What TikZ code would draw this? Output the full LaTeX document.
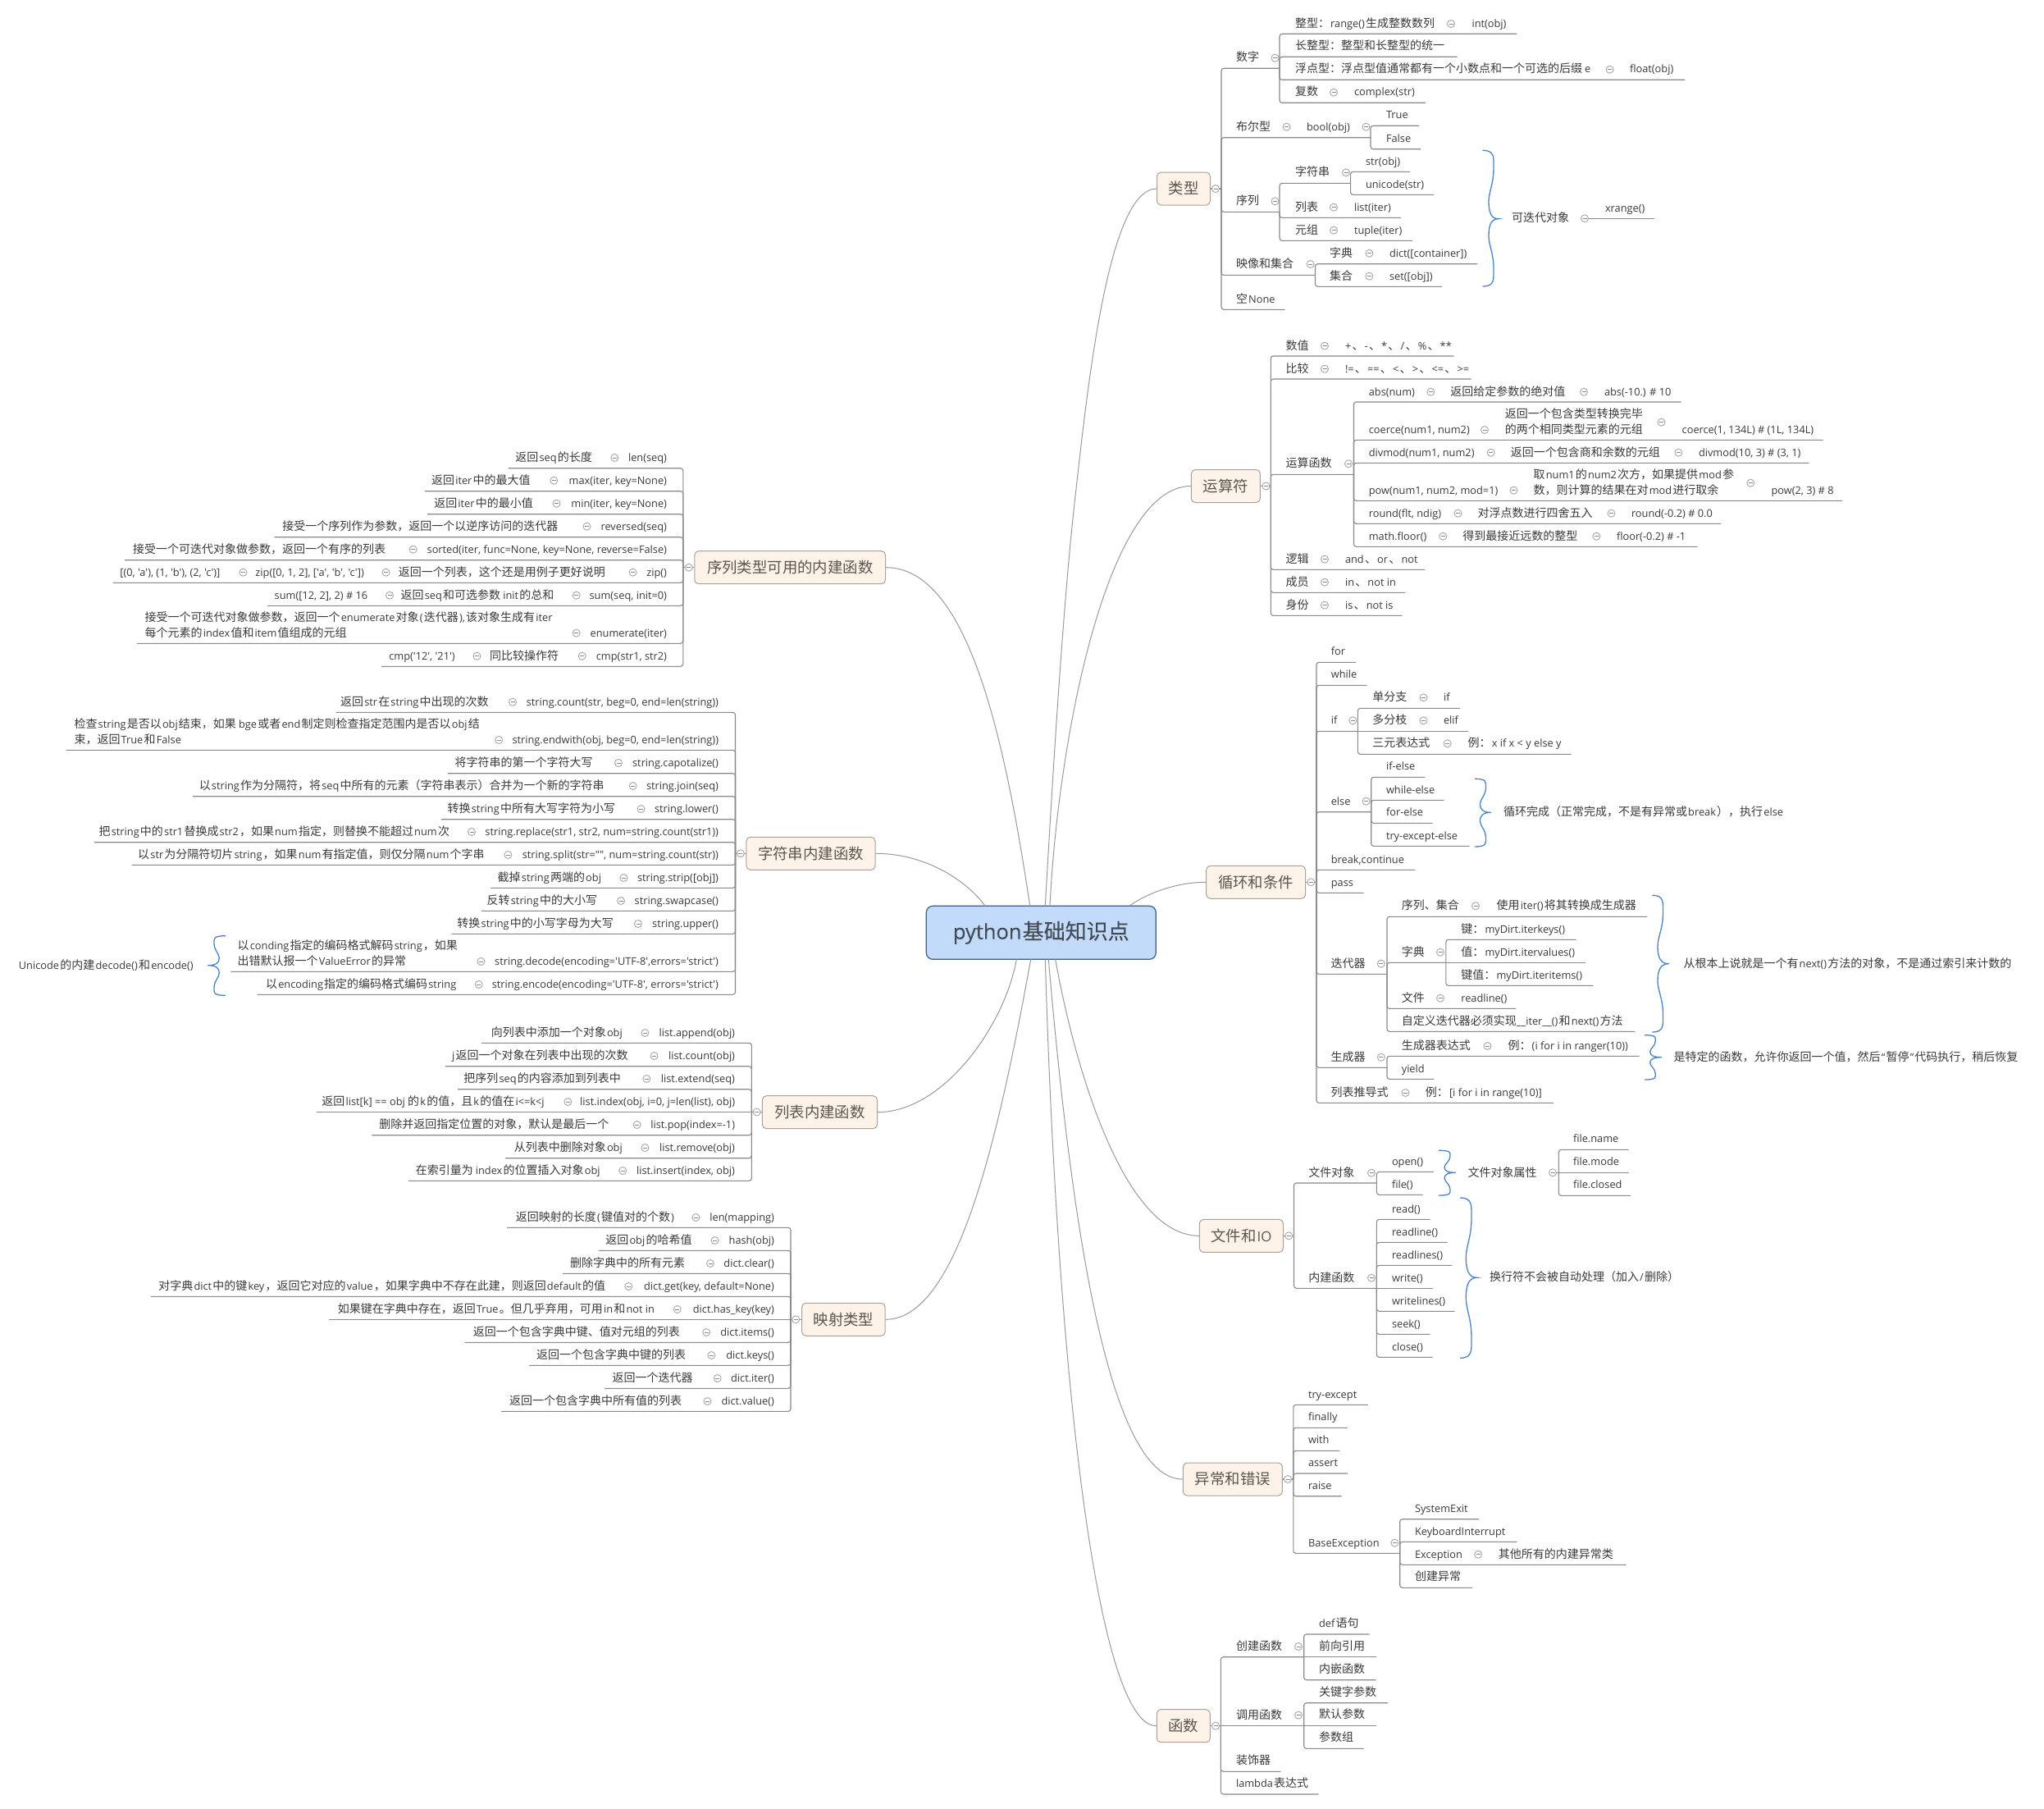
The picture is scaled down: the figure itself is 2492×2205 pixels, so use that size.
\documentclass[tikz,border=0pt]{standalone}
\usepackage{fontspec}
\newfontfamily\latf[Scale=0.913]{Open Sans}
\newfontfamily\cjkf{Noto Sans CJK SC}
\newfontfamily\latb[Scale=0.98,FakeBold=0.3]{Open Sans}
\newfontfamily\cjkb[FakeBold=0.3]{Noto Sans CJK SC}
\let\zhf\cjkf \let\enf\latf
\newcount\cc
\cc="4E00 \loop\XeTeXcharclass\cc=200 \advance\cc 1 \ifnum\cc<"A000 \repeat
\cc="3000 \loop\XeTeXcharclass\cc=200 \advance\cc 1 \ifnum\cc<"3040 \repeat
\cc="FF00 \loop\XeTeXcharclass\cc=200 \advance\cc 1 \ifnum\cc<"FFF0 \repeat
\XeTeXinterchartoks 0 200={\kern1.2pt\zhf}
\XeTeXinterchartoks 4095 200={\zhf}
\XeTeXinterchartoks 200 0={\kern1.2pt\enf}
\XeTeXinterchartoks 4095 0={\enf}
\XeTeXinterchartokenstate=1
\definecolor{ln}{HTML}{8A8A8A}
\definecolor{cv}{HTML}{9A9A9A}
\definecolor{tx}{HTML}{3A3A3A}
\definecolor{bxf}{HTML}{FDF3E9}
\definecolor{bxd}{HTML}{A8A298}
\definecolor{bxt}{HTML}{5C5650}
\definecolor{rtf}{HTML}{C3DBFA}
\definecolor{rtd}{HTML}{3D5F8A}
\definecolor{rtt}{HTML}{434B55}
\definecolor{brc}{HTML}{4A84C6}
\definecolor{cir}{HTML}{A6A6A6}
\tikzset{
 conn/.style={draw=ln,line width=1.1pt,rounded corners=3pt},
 curve/.style={draw=cv,line width=1pt},
 bracepath/.style={draw=brc,line width=1.3pt},
 lbl/.style={inner sep=0pt,outer sep=0pt,text=tx,font=\fontsize{14}{18.6}\selectfont\enf},
 multi/.style={lbl,align=left},
 col/.style={circle,draw=cir,line width=0.9pt,fill=white,minimum size=9pt,inner sep=0pt,
  path picture={\draw[draw=ln,line width=0.8pt] ([xshift=-2.5pt]path picture bounding box.center) -- ([xshift=2.5pt]path picture bounding box.center);}},
 box/.style={draw=bxd,line width=1pt,fill=bxf,rounded corners=5pt,inner sep=0pt,text=bxt,font=\fontsize{18.4}{22}\selectfont\enf},
 rootn/.style={draw=rtd,line width=1.2pt,fill=rtf,rounded corners=8pt,inner sep=0pt,text=rtt,font=\let\zhf\cjkb\let\enf\latb\fontsize{26}{30}\selectfont\enf},
}
\newcount\nc
\newcommand\Tl[3]{\global\advance\nc1 \node[lbl,anchor=base west] (n\the\nc) at (#1,#2+4.3) {#3};}
\newcommand\Tr[3]{\global\advance\nc1 \node[lbl,anchor=base east] (n\the\nc) at (#1,#2+4.3) {#3};}
\newcommand\Tm[3]{\global\advance\nc1 \node[multi,anchor=base west] (n\the\nc) at (#1,#2+4.3) {#3};}
\newcommand\Cc[2]{\global\advance\nc1 \node[col] (n\the\nc) at (#1,#2) {};}
\newcommand\Rw[4]{\coordinate (#1) at (#4,#3); \draw[conn] (#2) |- (#1);}
\newcommand\Rs[4]{\coordinate (#1) at (#4,#3); \draw[conn] (#2) -- (#1);}
\newcommand\Bx[6]{\node[box,minimum width={#3-#2},minimum height={#5-#4}] (#1) at ({(#2+#3)/2},{(#4+#5)/2}) {#6};}
% L: free end, S: swell, M: waist, P: tip; T,C,B: top, tip level, bottom
\newcommand\Brc[7]{\draw[bracepath] (#1,#5) .. controls ({#2+0.1*(#2-#1)},#5) and (#2,{#5+0.1*(#6-#5)}) .. (#2,{#5+0.25*(#6-#5)})
 .. controls (#2,{#5+0.5*(#6-#5)}) and (#3,{#5+0.6*(#6-#5)}) .. (#3,{#5+0.75*(#6-#5)})
 .. controls (#3,{#5+0.92*(#6-#5)}) and ({#3+0.3*(#4-#3)},#6) .. (#4,#6)
 .. controls ({#3+0.3*(#4-#3)},#6) and (#3,{#7-0.92*(#7-#6)}) .. (#3,{#7-0.75*(#7-#6)})
 .. controls (#3,{#7-0.6*(#7-#6)}) and (#2,{#7-0.5*(#7-#6)}) .. (#2,{#7-0.25*(#7-#6)})
 .. controls (#2,{#7-0.1*(#7-#6)}) and ({#2+0.1*(#2-#1)},#7) .. (#1,#7);}
\begin{document}
\begin{tikzpicture}[x=1pt,y=-1pt]
\useasboundingbox[fill=white] (0,0) rectangle (2492,2205);
% ---- main boxes
\node[rootn,minimum width=280pt,minimum height=65pt] (root) at (1269.3,1136.8) {python基础知识点};
\Bx{bA}{1410.5}{1475.5}{210}{250}{类型}
\Bx{bB}{1452.3}{1536.4}{572.5}{612.5}{运算符}
\Bx{bC}{1470.7}{1591.6}{1055.3}{1095.3}{循环和条件}
\Bx{bD}{1462.3}{1564.5}{1486.3}{1526.3}{文件和IO}
\Bx{bE}{1442.4}{1563.4}{1783}{1823}{异常和错误}
\Bx{bF}{1410.3}{1475.4}{2083.7}{2123.7}{函数}
\Bx{bG}{846.8}{1079.6}{671.7}{711.7}{序列类型可用的内建函数}
\Bx{bH}{909.9}{1067}{1020.3}{1060.3}{字符串内建函数}
\Bx{bI}{929.4}{1069.5}{1335.7}{1375.7}{列表内建函数}
\Bx{bJ}{977.6}{1079.2}{1588.3}{1628.3}{映射类型}
% ---- root curves
\coordinate (rA) at (1274.3,1104.3); \coordinate (rB) at (1280,1104.3); \coordinate (rC) at (1376.7,1104.3);
\coordinate (rD) at (1286.7,1169.3); \coordinate (rE) at (1278.3,1169.3); \coordinate (rF) at (1274.3,1169.3);
\coordinate (rG) at (1255.7,1104.3); \coordinate (rH) at (1201,1104.3); \coordinate (rI) at (1239.3,1169.3); \coordinate (rJ) at (1256.7,1169.3);
\draw[curve] (rA) .. controls (1282,970) and (1295,750) .. (1309.3,620) .. controls (1325,480) and (1350,230) .. (bA.west);
\draw[curve] (rB) .. controls (1290,900) and (1350,592.5) .. (bB.west);
\draw[curve] (rC) .. controls (1400,1088) and (1435,1075.3) .. (bC.west);
\draw[curve] (rD) .. controls (1310,1300) and (1370,1506.3) .. (bD.west);
\draw[curve] (rE) .. controls (1305,1480) and (1350,1803) .. (bE.west);
\draw[curve] (rF) .. controls (1290,1700) and (1340,2103.7) .. (bF.west);
\draw[curve] (rG) .. controls (1225,900) and (1180,691.7) .. (bG.east);
\draw[curve] (rH) .. controls (1180,1075) and (1130,1040.3) .. (bH.east);
\draw[curve] (rI) .. controls (1225,1250) and (1150,1355.7) .. (bI.east);
\draw[curve] (rJ) .. controls (1215,1400) and (1165,1608.3) .. (bJ.east);
% ---- A 类型
\coordinate (A) at (1489,230); \draw[conn] (bA.east) -- (A);
\Rw{a1}{A}{83.3}{1560}\Rw{a11}{a1}{41.3}{1849}\Rw{a12}{a1}{69.3}{1776.5}\Rw{a13}{a1}{97.3}{2054}\Rw{a14}{a1}{125.3}{1738}
\Rw{a2}{A}{167.7}{1671}\Rw{a21}{a2}{153.3}{1730}\Rw{a22}{a2}{181.7}{1732}
\Rw{a3}{A}{258.3}{1560}\Rw{a31}{a3}{223.3}{1646.6}\Rw{a311}{a31}{209.3}{1719}\Rw{a312}{a31}{237.3}{1748}\Rw{a32}{a3}{265.3}{1708}\Rw{a33}{a3}{293.3}{1722}
\Rw{a4}{A}{335.3}{1603.5}\Rw{a41}{a4}{321.7}{1801}\Rw{a42}{a4}{349.3}{1758}
\Rw{a5}{A}{377.3}{1566.6}
\Cc{1482}{230}
\Tl{1507}{70.7}{数字}\Cc{1554.5}{70.7}
\Tl{1579}{29}{整型：range()生成整数数列}\Cc{1769}{29}\Tl{1794.5}{29}{int(obj)}
\Tl{1579}{56.7}{长整型：整型和长整型的统一}
\Tl{1579}{84.7}{浮点型：浮点型值通常都有一个小数点和一个可选的后缀 e}\Cc{1962.6}{84.7}\Tl{1987}{84.7}{float(obj)}
\Tl{1579}{112.7}{复数}\Cc{1626}{112.7}\Tl{1651}{112.7}{complex(str)}
\Tl{1507}{154.7}{布尔型}\Cc{1568.6}{154.7}\Tl{1593}{154.7}{bool(obj)}\Cc{1665.5}{154.7}
\Tl{1690}{140.7}{True}\Tl{1690}{168.7}{False}
\Tl{1507}{245.3}{序列}\Cc{1554.5}{245.3}
\Tl{1579}{210.3}{字符串}\Cc{1641}{210.3}\Tl{1665}{196.7}{str(obj)}\Tl{1665}{224.7}{unicode(str)}
\Tl{1579}{252.7}{列表}\Cc{1626}{252.7}\Tl{1651}{252.7}{list(iter)}
\Tl{1579}{280.7}{元组}\Cc{1626}{280.7}\Tl{1651}{280.7}{tuple(iter)}
\Tl{1507}{322}{映像和集合}\Cc{1597.6}{322}
\Tl{1621}{308.7}{字典}\Cc{1669.4}{308.7}\Tl{1694}{308.7}{dict([container])}
\Tl{1621}{336.7}{集合}\Cc{1669.4}{336.7}\Tl{1694}{336.7}{set([obj])}
\Tl{1507}{364.7}{空None}
\Brc{1807.5}{1821}{1815}{1827}{183.3}{266.7}{349}
\Tl{1843}{266.3}{可迭代对象}
\coordinate (a6) at (1932,266.3); \coordinate (a61) at (2017,266.3); \draw[conn] (a6) -- (a61);
\Cc{1932}{266.3}\Tl{1957}{254}{xrange()}
% ---- B 运算符
\coordinate (B) at (1549.3,592.5); \draw[conn] (bB.east) -- (B);
\Rw{b1}{B}{434}{1772.7}\Rw{b2}{B}{462}{1793.6}\Rw{b3}{B}{578.3}{1650.5}
\Rw{b31}{b3}{490}{2049.6}\Rw{b32}{b3}{536.3}{2222.7}\Rw{b33}{b3}{564.3}{2205.5}\Rw{b34}{b3}{610.3}{2246}\Rw{b35}{b3}{638.3}{2098.4}\Rw{b36}{b3}{666.3}{2069.5}
\Rw{b4}{B}{694.3}{1737.3}\Rw{b5}{B}{722.3}{1713}\Rw{b6}{B}{750.3}{1709.5}
\Cc{1543.4}{592.5}
\Tl{1567.5}{421.7}{数值}\Cc{1615}{421.7}\Tl{1640}{421.7}{+、-、*、/、\%、**}
\Tl{1567.5}{449.7}{比较}\Cc{1615}{449.7}\Tl{1640}{449.7}{!=、==、<、>、<=、>=}
\Tl{1567.5}{565.3}{运算函数}\Cc{1644}{565.3}
\Tl{1668.8}{477.7}{abs(num)}\Cc{1744.3}{477.7}\Tl{1768.4}{477.7}{返回给定参数的绝对值}\Cc{1931}{477.7}\Tl{1956}{477.7}{abs(-10.) \# 10}
\Tl{1668.8}{524}{coerce(num1, num2)}\Cc{1810}{524}\Tm{1834.8}{524}{返回一个包含类型转换完毕\\的两个相同类型元素的元组}\Cc{2025.5}{514.7}\Tl{2050.7}{524}{coerce(1, 134L) \# (1L, 134L)}
\Tl{1668.8}{551.7}{divmod(num1, num2)}\Cc{1817.7}{551.7}\Tl{1841.8}{551.7}{返回一个包含商和余数的元组}\Cc{2046.4}{551.7}\Tl{2071}{551.7}{divmod(10, 3) \# (3, 1)}
\Tl{1668.8}{597.7}{pow(num1, num2, mod=1)}\Cc{1845.5}{597.7}\Tm{1869.6}{597.7}{取num1的num2次方，如果提供mod参\\数，则计算的结果在对mod进行取余}\Cc{2134.3}{588.7}\Tl{2159.5}{597.7}{pow(2, 3) \# 8}
\Tl{1668.8}{625.7}{round(flt, ndig)}\Cc{1777.5}{625.7}\Tl{1801.6}{625.7}{对浮点数进行四舍五入}\Cc{1964.5}{625.7}\Tl{1989}{625.7}{round(-0.2) \# 0.0}
\Tl{1668.8}{653.7}{math.floor()}\Cc{1759.3}{653.7}\Tl{1783.4}{653.7}{得到最接近远数的整型}\Cc{1946.3}{653.7}\Tl{1971}{653.7}{floor(-0.2) \# -1}
\Tl{1567.5}{681.7}{逻辑}\Cc{1615}{681.7}\Tl{1640}{681.7}{and、or、not}
\Tl{1567.5}{709.7}{成员}\Cc{1615}{709.7}\Tl{1640}{709.7}{in、not in}
\Tl{1567.5}{737.7}{身份}\Cc{1615}{737.7}\Tl{1640}{737.7}{is、not is}
% ---- C 循环和条件
\coordinate (C) at (1605,1075.3); \draw[conn] (bC.east) -- (C);
\Rw{c1}{C}{807.3}{1652.9}\Rw{c2}{C}{835.3}{1666.6}\Rw{c3}{C}{891.3}{1655.4}
\Rw{c31}{c3}{863.3}{1780}\Rs{c32}{c3}{891.3}{1789.6}\Rw{c33}{c3}{919.3}{1915.6}
\Rw{c4}{C}{989.7}{1671.7}\Rw{c41}{c4}{947.3}{1737}\Rw{c42}{c4}{975.3}{1760.5}\Rw{c43}{c4}{1003.3}{1746.7}\Rw{c44}{c4}{1031.3}{1791.6}
\Rw{c5}{C}{1060.3}{1725.3}\Rw{c6}{C}{1088.3}{1662.6}
\Rw{c7}{C}{1187.3}{1691}\Rw{c71}{c7}{1117.3}{2008.4}\Rw{c72}{c7}{1173.3}{1762.8}\Rw{c721}{c72}{1145.3}{1921.5}\Rs{c722}{c72}{1173.3}{1933.3}\Rw{c723}{c72}{1201.3}{1942.5}\Rw{c73}{c7}{1229.3}{1848.4}\Rw{c74}{c7}{1257.3}{1993}
\Rw{c8}{C}{1301.3}{1691}\Rw{c81}{c8}{1287.3}{1998.5}\Rw{c82}{c8}{1315.3}{1748.3}
\Rw{c9}{C}{1344.3}{1893.8}
\Cc{1598.3}{1075.3}
\Tl{1622.8}{794.3}{for}\Tl{1622.8}{822.3}{while}
\Tl{1622.8}{878.3}{if}\Cc{1649.3}{878.3}
\Tl{1673.3}{850.3}{单分支}\Cc{1735.5}{850.3}\Tl{1760}{850.3}{if}
\Tl{1673.3}{878.3}{多分枝}\Cc{1735.5}{878.3}\Tl{1760}{878.3}{elif}
\Tl{1673.3}{906.3}{三元表达式}\Cc{1764.6}{906.3}\Tl{1789.6}{906.3}{例：x if x < y else y}
\Tl{1622.8}{976.7}{else}\Cc{1665.6}{976.7}
\Tl{1690}{934.3}{if-else}\Tl{1690}{962.7}{while-else}\Tl{1690}{990.3}{for-else}\Tl{1690}{1018.7}{try-except-else}
\Brc{1797.8}{1811.5}{1804.4}{1818}{949.3}{990.3}{1032}
\Tl{1833}{990.3}{循环完成（正常完成，不是有异常或break），执行else}
\Tl{1622.8}{1047.7}{break,continue}\Tl{1622.8}{1076}{pass}
\Tl{1622.6}{1174.7}{迭代器}\Cc{1683.8}{1174.7}
\Tl{1708.8}{1104.3}{序列、集合}\Cc{1799}{1104.3}\Tl{1824.7}{1104.3}{使用iter()将其转换成生成器}
\Tl{1708.8}{1160.7}{字典}\Cc{1756}{1160.7}
\Tl{1781.3}{1132.7}{键：myDirt.iterkeys()}\Tl{1781.3}{1160.7}{值：myDirt.itervalues()}\Tl{1781.3}{1188.7}{键值：myDirt.iteritems()}
\Tl{1708.8}{1216.7}{文件}\Cc{1756}{1216.7}\Tl{1781.3}{1216.7}{readline()}
\Tl{1708.8}{1244.7}{自定义迭代器必须实现\_\_iter\_\_()和next()方法}
\Brc{2014.3}{2027.5}{2021}{2034.7}{1091.3}{1174.7}{1258}
\Tl{2052.5}{1174.7}{从根本上说就是一个有next()方法的对象，不是通过索引来计数的}
\Tl{1622.6}{1288.7}{生成器}\Cc{1683.8}{1288.7}
\Tl{1708.8}{1275}{生成器表达式}\Cc{1813.5}{1275}\Tl{1838.5}{1275}{例：(i for i in ranger(10))}
\Tl{1708.8}{1302.7}{yield}
\Brc{2005}{2018.3}{2011.7}{2026}{1261.7}{1288.7}{1316}
\Tl{2040.7}{1288.7}{是特定的函数，允许你返回一个值，然后“暂停”代码执行，稍后恢复}
\Tl{1622.6}{1332}{列表推导式}\Cc{1713.5}{1332}\Tl{1737.8}{1332}{例：[i for i in range(10)]}
% ---- D 文件和IO
\coordinate (D) at (1577.5,1506.3); \draw[conn] (bD.east) -- (D);
\Rw{d1}{D}{1442}{1678.4}\Rw{d11}{d1}{1428.3}{1748}\Rw{d12}{d1}{1456.3}{1734.6}
\Rw{d2}{D}{1570.3}{1678.4}\Rw{d21}{d2}{1486.3}{1743.6}\Rw{d22}{d2}{1514.3}{1764.6}\Rw{d23}{d2}{1542.3}{1770.4}\Rs{d24}{d2}{1570.3}{1746.7}\Rw{d25}{d2}{1598.3}{1773.5}\Rw{d26}{d2}{1626.3}{1743.6}\Rw{d27}{d2}{1654.3}{1746.7}
\coordinate (d3) at (1900.3,1429.3); \coordinate (d3s) at (1893,1429.3); \draw[conn] (d3s) -- (d3);
\Rw{d31}{d3}{1401.3}{1985.5}\Rs{d32}{d3}{1429.3}{1986.4}\Rw{d33}{d3}{1457.3}{1988}
\Cc{1571.3}{1506.3}
\Tl{1595.4}{1429.7}{文件对象}\Cc{1672}{1429.7}
\Tl{1697}{1416}{open()}\Tl{1697}{1444}{file()}
\Brc{1753.8}{1768}{1761}{1774.8}{1402.3}{1429.3}{1457}
\Tl{1789.5}{1429.7}{文件对象属性}\Cc{1893}{1429.3}
\Tl{1918}{1388.3}{file.name}\Tl{1918}{1416.3}{file.mode}\Tl{1918}{1444.3}{file.closed}
\Tl{1595.4}{1557.7}{内建函数}\Cc{1672}{1557.7}
\Tl{1697}{1473.7}{read()}\Tl{1697}{1501.7}{readline()}\Tl{1697}{1529.7}{readlines()}\Tl{1697}{1557.7}{write()}\Tl{1697}{1585.7}{writelines()}\Tl{1697}{1613.7}{seek()}\Tl{1697}{1641.7}{close()}
\Brc{1780}{1794}{1787.3}{1800.7}{1460}{1557.3}{1655.3}
\Tl{1816}{1557.3}{换行符不会被自动处理（加入/删除）}
% ---- E 异常和错误
\coordinate (E) at (1576.8,1803); \draw[conn] (bE.east) -- (E);
\Rw{e1}{E}{1712.3}{1667.9}\Rw{e2}{E}{1740.3}{1642.9}\Rw{e3}{E}{1768.3}{1633}\Rw{e4}{E}{1796}{1642.9}\Rw{e5}{E}{1823.7}{1635.7}
\Rw{e6}{E}{1893.3}{1706.7}\Rw{e61}{e6}{1851.7}{1803}\Rw{e62}{e6}{1879.3}{1849.6}\Rw{e63}{e6}{1907.3}{1982.6}\Rw{e64}{e6}{1935.3}{1795}
\Cc{1570}{1803}
\Tl{1595}{1699.7}{try-except}\Tl{1595}{1727.3}{finally}\Tl{1595}{1755.3}{with}\Tl{1595}{1783.3}{assert}\Tl{1595}{1811}{raise}
\Tl{1595}{1880.7}{BaseException}\Cc{1700.4}{1880.7}
\Tl{1725}{1839}{SystemExit}\Tl{1725}{1866.7}{KeyboardInterrupt}
\Tl{1725}{1894.7}{Exception}\Cc{1802.2}{1894.7}\Tl{1826.8}{1894.7}{其他所有的内建异常类}
\Tl{1725}{1922.3}{创建异常}
% ---- F 函数
\coordinate (F) at (1488.4,2103.7); \draw[conn] (bF.east) -- (F);
\Rw{f1}{F}{2019.7}{1589.7}\Rw{f11}{f1}{1992}{1669.6}\Rs{f12}{f1}{2019.7}{1677.7}\Rw{f13}{f1}{2047.7}{1677.7}
\Rs{f2}{F}{2103.7}{1589.7}\Rw{f21}{f2}{2075.7}{1692}\Rs{f22}{f2}{2103.7}{1677.7}\Rw{f23}{f2}{2131.3}{1662.5}
\Rw{f3}{F}{2159.3}{1561.6}\Rw{f4}{F}{2187}{1607.6}
\Cc{1482}{2103.7}
\Tl{1507}{2007}{创建函数}\Cc{1583}{2007}
\Tl{1608}{1979}{def语句}\Tl{1608}{2007}{前向引用}\Tl{1608}{2034.7}{内嵌函数}
\Tl{1507}{2090.7}{调用函数}\Cc{1583}{2090.7}
\Tl{1608}{2062.7}{关键字参数}\Tl{1608}{2090.3}{默认参数}\Tl{1608}{2118.3}{参数组}
\Tl{1507}{2146.3}{装饰器}\Tl{1507}{2174}{lambda表达式}
% ---- G 序列类型可用的内建函数
\coordinate (G) at (832.8,691.7); \draw[conn] (bG.west) -- (G);
\Rw{g1}{G}{570.7}{619.8}\Rw{g2}{G}{598.7}{517.8}\Rw{g3}{G}{626.7}{521}\Rw{g4}{G}{654.7}{334.7}\Rw{g5}{G}{682.7}{152}\Rw{g6}{G}{710.3}{137.7}\Rw{g7}{G}{738.3}{325.8}\Rw{g8}{G}{784.3}{167}\Rw{g9}{G}{812.3}{464.8}
\Cc{839.8}{691.7}
\Tr{813}{558}{len(seq)}\Cc{749.3}{558}\Tr{721.8}{558}{返回seq的长度}
\Tr{813}{585.7}{max(iter, key=None)}\Cc{675.3}{585.7}\Tr{646.6}{585.7}{返回iter中的最大值}
\Tr{813}{613.7}{min(iter, key=None)}\Cc{678.5}{613.7}\Tr{649.8}{613.7}{返回iter中的最小值}
\Tr{813}{641.7}{reversed(seq)}\Cc{715.5}{641.7}\Tr{680.4}{641.7}{接受一个序列作为参数，返回一个以逆序访问的迭代器}
\Tr{813}{669.7}{sorted(iter, func=None, key=None, reverse=False)}\Cc{503.7}{669.7}\Tr{470}{669.7}{接受一个可迭代对象做参数，返回一个有序的列表}
\Tr{813}{697.7}{zip()}\Cc{771.6}{697.7}\Tr{737.8}{697.7}{返回一个列表，这个还是用例子更好说明}\Cc{470.6}{697.7}\Tr{443.8}{697.7}{zip([0, 1, 2], ['a', 'b', 'c'])}\Cc{296.5}{697.7}\Tr{268.4}{697.7}{[(0, 'a'), (1, 'b'), (2, 'c')]}
\Tr{813}{725.7}{sum(seq, init=0)}\Cc{702.7}{725.7}\Tr{675.3}{725.7}{返回seq和可选参数 init的总和}\Cc{475}{725.7}\Tr{448.2}{725.7}{sum([12, 2], 2) \# 16}
\Tr{813}{771.7}{enumerate(iter)}\Cc{702.7}{771.7}\Tm{176.6}{771.7}{接受一个可迭代对象做参数，返回一个enumerate对象(迭代器),该对象生成有iter\\每个元素的index值和item值组成的元组}
\Tr{813}{799.7}{cmp(str1, str2)}\Cc{709.7}{799.7}\Tr{681}{799.7}{同比较操作符}\Cc{581.5}{799.7}\Tr{554.7}{799.7}{cmp('12', '21')}
% ---- H 字符串内建函数
\coordinate (H) at (896.5,1040.3); \draw[conn] (bH.west) -- (H);
\Rw{h1}{H}{868.3}{409.7}\Rw{h2}{H}{914.3}{80.7}\Rw{h3}{H}{942.7}{545.8}\Rw{h4}{H}{970.7}{235}\Rw{h5}{H}{998.7}{538}\Rw{h6}{H}{1026.7}{115}\Rw{h7}{H}{1054.3}{160.6}\Rw{h8}{H}{1082.3}{598.4}\Rw{h9}{H}{1110.3}{587}\Rw{h10}{H}{1138.3}{550.7}\Rw{h11}{H}{1184.3}{281.3}\Rw{h12}{H}{1212.3}{313.6}
\Cc{902.8}{1040.3}
\Tr{876}{855.7}{string.count(str, beg=0, end=len(string))}\Cc{625}{855.7}\Tr{595.6}{855.7}{返回str在string中出现的次数}
\Tr{876}{902}{string.endwith(obj, beg=0, end=len(string))}\Cc{608.2}{902}\Tm{90.5}{902}{检查string是否以obj结束，如果 bge或者end制定则检查指定范围内是否以obj结\\束，返回True和False}
\Tr{876}{930}{string.capotalize()}\Cc{754}{930}\Tr{722.6}{930}{将字符串的第一个字符大写}
\Tr{876}{958}{string.join(seq)}\Cc{771.7}{958}\Tr{736.6}{958}{以string作为分隔符，将seq中所有的元素（字符串表示）合并为一个新的字符串}
\Tr{876}{986}{string.lower()}\Cc{781.5}{986}\Tr{750}{986}{转换string中所有大写字符为小写}
\Tr{876}{1014}{string.replace(str1, str2, num=string.count(str1))}\Cc{575}{1014}\Tr{548}{1014}{把string中的str1替换成str2，如果num指定，则替换不能超过num次}
\Tr{876}{1042}{string.split(str="", num=string.count(str))}\Cc{619.4}{1042}\Tr{590.7}{1042}{以str为分隔符切片string，如果num有指定值，则仅分隔num个字串}
\Tr{876}{1070}{string.strip([obj])}\Cc{760.4}{1070}\Tr{733}{1070}{截掉string两端的obj}
\Tr{876}{1098}{string.swapcase()}\Cc{757}{1098}\Tr{728}{1098}{反转string中的大小写}
\Tr{876}{1126}{string.upper()}\Cc{778}{1126}\Tr{747.8}{1126}{转换string中的小写字母为大写}
\Tr{876}{1172}{string.decode(encoding='UTF-8',errors='strict')}\Cc{586.5}{1172}\Tm{289.7}{1172}{以conding指定的编码格式解码string，如果\\出错默认报一个ValueError的异常}
\Tr{876}{1200}{string.encode(encoding='UTF-8', errors='strict')}\Cc{583.7}{1200}\Tr{556.3}{1200}{以encoding指定的编码格式编码string}
\Brc{275}{261}{267.3}{253.2}{1140.7}{1176.7}{1213.3}
\Tr{235.7}{1176.7}{Unicode的内建decode()和encode()}
% ---- I 列表内建函数
\coordinate (I) at (916.3,1355.5); \draw[conn] (bI.west) -- (I);
\Rw{i1}{I}{1271.3}{587}\Rw{i2}{I}{1299.7}{543}\Rw{i3}{I}{1327.7}{558}\Rs{i4}{I}{1355.5}{386}\Rw{i5}{I}{1383.7}{453.4}\Rw{i6}{I}{1411.7}{616}\Rw{i7}{I}{1439.3}{498}
\Cc{922.6}{1355.5}
\Tr{896}{1259}{list.append(obj)}\Cc{786.4}{1259}\Tr{758.8}{1259}{向列表中添加一个对象obj}
\Tr{896}{1287}{list.count(obj)}\Cc{797.5}{1287}\Tr{765.5}{1287}{j返回一个对象在列表中出现的次数}
\Tr{896}{1315}{list.extend(seq)}\Cc{788.3}{1315}\Tr{756.8}{1315}{把序列seq的内容添加到列表中}
\Tr{896}{1343}{list.index(obj, i=0, j=len(list), obj)}\Cc{692.3}{1343}\Tr{663.7}{1343}{返回list[k] == obj 的k的值，且k的值在i<=k<j}
\Tr{896}{1371}{list.pop(index=-1)}\Cc{776.7}{1371}\Tr{742.3}{1371}{删除并返回指定位置的对象，默认是最后一个}
\Tr{896}{1399}{list.remove(obj)}\Cc{786.4}{1399}\Tr{758.8}{1399}{从列表中删除对象obj}
\Tr{896}{1427}{list.insert(index, obj)}\Cc{759.2}{1427}\Tr{731.6}{1427}{在索引量为 index的位置插入对象obj}
% ---- J 映射类型
\coordinate (J) at (964,1608.3); \draw[conn] (bJ.west) -- (J);
\Rw{j1}{J}{1496.3}{618.2}\Rw{j2}{J}{1524.3}{730.2}\Rw{j3}{J}{1552.3}{686}\Rw{j4}{J}{1580.3}{183.5}\Rs{j5}{J}{1608.3}{400.8}\Rw{j6}{J}{1636.3}{566.7}\Rw{j7}{J}{1664.3}{645}\Rw{j8}{J}{1692.3}{737}\Rw{j9}{J}{1720.3}{610.8}
\Cc{970.2}{1608.3}
\Tr{943.9}{1484}{len(mapping)}\Cc{848.4}{1484}\Tr{822}{1484}{返回映射的长度(键值对的个数)}
\Tr{943.9}{1512}{hash(obj)}\Cc{871.6}{1512}\Tr{843.5}{1512}{返回obj的哈希值}
\Tr{943.9}{1540}{dict.clear()}\Cc{866}{1540}\Tr{835}{1540}{删除字典中的所有元素}
\Tr{943.9}{1568}{dict.get(key, default=None)}\Cc{766.3}{1568}\Tr{738.2}{1568}{对字典dict中的键key，返回它对应的value，如果字典中不存在此建，则返回default的值}
\Tr{943.9}{1596}{dict.has\_key(key)}\Cc{825.7}{1596}\Tr{798}{1596}{如果键在字典中存在，返回True。但几乎弃用，可用in和not in}
\Tr{943.9}{1624}{dict.items()}\Cc{861.2}{1624}\Tr{828.8}{1624}{返回一个包含字典中键、值对元组的列表}
\Tr{943.9}{1652}{dict.keys()}\Cc{867.4}{1652}\Tr{836}{1652}{返回一个包含字典中键的列表}
\Tr{943.9}{1680}{dict.iter()}\Cc{874.7}{1680}\Tr{844.7}{1680}{返回一个迭代器}
\Tr{943.9}{1708}{dict.value()}\Cc{862.5}{1708}\Tr{831.2}{1708}{返回一个包含字典中所有值的列表}
\end{tikzpicture}
\end{document}
